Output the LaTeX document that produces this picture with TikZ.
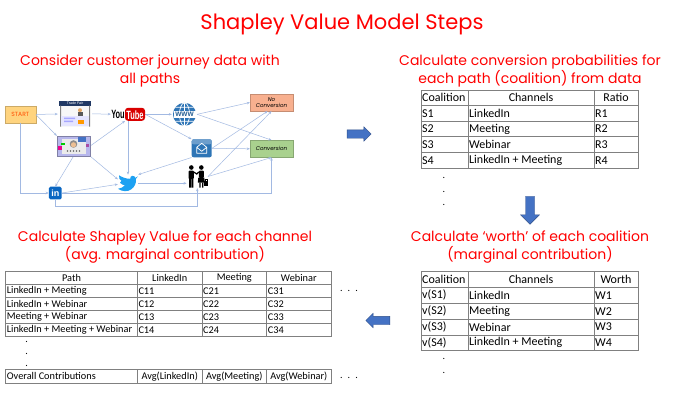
\documentclass[tikz,border=0pt]{standalone}
\usepackage{fontspec}
\setmainfont{Carlito}
\newfontfamily\mainscript{Poppins}
\newfontfamily\logofont{Liberation Sans}
\usetikzlibrary{arrows.meta,shapes.arrows}

\definecolor{rouge}{HTML}{FF0000}
\definecolor{bleufleche}{HTML}{4472C4}
\definecolor{bleulien}{HTML}{A2B9E2}
\definecolor{grisgrille}{HTML}{808080}
\definecolor{bleuli}{HTML}{0A66C2}
\definecolor{bleutw}{HTML}{1DA1F2}
\definecolor{bleuweb}{HTML}{2E75B6}
\definecolor{bleusalon}{HTML}{203864}
\definecolor{lavande}{HTML}{B7B7EC}
\definecolor{orangedep}{HTML}{FFD47F}
\definecolor{saumon}{HTML}{F8B08F}
\definecolor{vertconv}{HTML}{A9D18E}

\tikzset{etape/.style = {text = rouge, align = center, inner sep = 0pt,
                         font = \mainscript\fontsize{14}{18}\selectfont},
         titre/.style = {etape, font = \mainscript\fontsize{21}{24}\selectfont},
         grille/.style = {draw = grisgrille, line width = 0.8pt},
         cellule/.style = {anchor = west, inner sep = 1pt, font = \fontsize{#1}{#1}\selectfont},
         cellule/.default = 12,
         points/.style = {inner sep = 0pt, font = \fontsize{10}{10}\selectfont},
         icone/.style 2 args = {minimum width = #1, minimum height = #2, inner sep = 0pt},
         boite/.style = {icone = {43pt}{17pt}, draw = #1!80!black, fill = #1, line width = 0.4pt,
                         align = center, font = \mainscript\itshape\fontsize{5.5}{6}\selectfont},
         lien/.style = {draw = bleulien, line width = 0.5pt, -{Stealth[length = 3pt, width = 2.5pt]}},
         fleche/.style = {single arrow, draw = bleufleche!70!black, fill = bleufleche, line width = 0.4pt,
                          minimum height = 24pt, inner sep = 4pt, single arrow head extend = 3pt}
        }

\begin{document}
\begin{tikzpicture}[x = 1pt, y = -1pt]
  \useasboundingbox[fill = white] (0,0) rectangle (684,400);

  % titres
  \node[titre] (titre) at (342,24) {Shapley Value Model Steps};
  \node[etape] (etape1) at (150,71) {Consider customer journey data with\\all paths};
  \node[etape] (etape2) at (530,71) {Calculate conversion probabilities for\\each path (coalition) from data};
  \node[etape] (etape3) at (530,247) {Calculate ‘worth’ of each coalition\\(marginal contribution)};
  \node[etape] (etape4) at (165,247) {Calculate Shapley Value for each channel\\(avg. marginal contribution)};

  % parcours client
  \node[boite = orangedep, text = orange!60!red, font = \mainscript\fontsize{6}{6}\selectfont,
        icone = {31pt}{17pt}] (depart) at (20.3,114.7) {START};
  \node[icone = {34pt}{26pt}] (salon) at (75,113.7) {};
  \node[icone = {34pt}{13pt}] (yt) at (128,114.3) {};
  \node[icone = {25pt}{23pt}] (web) at (184.5,114.3) {};
  \node[boite = saumon] (nonconv) at (271.5,102.5) {No\\Conversion};
  \node[icone = {33pt}{20pt}] (webinaire) at (73.5,146) {};
  \node[icone = {20pt}{18pt}] (lettre) at (201.7,148.3) {};
  \node[boite = vertconv] (conv) at (271.5,148.8) {Conversion};
  \node[icone = {20pt}{17pt}] (tw) at (128,183.3) {};
  \node[icone = {21pt}{23pt}] (rencontre) at (197.3,176.5) {};
  \node[icone = {12.7pt}{12.7pt}, fill = bleuli, rounded corners = 1.5pt, text = white,
        font = \logofont\bfseries\fontsize{9}{9}\selectfont] (li) at (55.3,193) {in};

  \draw[lien] (depart) -- (salon);
  \draw[lien] (depart.east) -- (webinaire.north west);
  \draw[lien] (depart.south) |- (li.west);
  \draw[lien] (salon) -- (yt);
  \draw[lien] (webinaire.east) -- ([xshift = -3pt]yt.south);
  \draw[lien] (webinaire.south east) -- ([yshift = 4pt]tw.west);
  \draw[lien] (webinaire.south) -- (li.north);
  \draw[lien] (yt) -- (web);
  \draw[lien] (yt) -- (tw);
  \draw[lien] (yt.east) -- (lettre.north west);
  \draw[lien] (web.east) -- (nonconv.west);
  \draw[lien] (web.east) -- (conv.north);
  \draw[lien] (lettre.east) -- ([xshift = -4pt]nonconv.south);
  \draw[lien] (lettre.east) -- (conv.west);
  \draw[lien] (lettre.south west) -- (tw.north east);
  \draw[lien] (tw.east) -- (rencontre.west |- tw.east);
  \draw[lien] (rencontre.east) -- (nonconv.south);
  \draw[lien] (rencontre.east) -- (conv.south);
  \draw[lien] (li.east) -- ([yshift = -1pt]tw.west);
  \draw[lien] (li.east) -| (conv.south);
  \draw[lien] (li.south) -- ++(0,7) -| (rencontre.south);

  % icones
  \begin{scope}[shift = {(salon.center)}]
    \fill[black!3] (-15,-8) rectangle (15,13);
    \fill[bleusalon] (-16,-13) rectangle (16,-8);
    \node[text = white, inner sep = 0pt, font = \logofont\fontsize{3.6}{4}\selectfont] (salon-t) at (0,-10.5) {Trade Fair};
    \fill[black!50] (-15,-8) rectangle (-14,13) (14,-8) rectangle (15,13);
    \fill[brown!60!orange!70] (5,-3.5) circle (2pt);
    \fill[black!65] (2.5,-1.5) rectangle (7.5,2.5);
    \fill[blue!10] (-14,2.5) rectangle (14,12);
    \fill[blue!35] (-11,4) rectangle (0,5.5) (-11,7) rectangle (-2,8.5);
    \fill[orange!80!yellow] (3,6) rectangle (9,10);
  \end{scope}

  \begin{scope}[shift = {(yt.center)}]
    \node[xscale = 0.62, inner sep = 0pt, font = \logofont\bfseries\fontsize{12}{12}\selectfont] (yt-you) at (-10,0.5) {You};
    \fill[red!85!black, rounded corners = 3pt] (-3,-6.5) rectangle (17,6.5);
    \node[xscale = 0.62, inner sep = 0pt, text = white, font = \logofont\bfseries\fontsize{12}{12}\selectfont] (yt-tube) at (7,0.5) {Tube};
  \end{scope}

  \begin{scope}[shift = {(web.center)}]
    \fill[bleuweb] (0,0) circle (11.5pt);
    \draw[white, line width = 0.7pt] (0,0) ellipse (5pt and 11.5pt) (0,-11.5) -- (0,11.5)
                                     (-9.1,-7) -- (9.1,-7) (-9.1,7) -- (9.1,7);
    \fill[white] (-11,-3.5) rectangle (11,3.5);
    \node[text = bleuweb!80!black, inner sep = 0pt, font = \logofont\bfseries\fontsize{6.5}{6.5}\selectfont] (web-t) at (0,0) {WWW};
  \end{scope}

  \begin{scope}[shift = {(webinaire.center)}]
    \fill[lavande] (-16.5,-10) rectangle (16.5,10);
    \draw[lavande!70!black, line width = 0.4pt] (-16.5,-10) rectangle (16.5,10);
    \fill[black!8] (-11.5,-7) rectangle (12.5,8);
    \fill[black!45] (0,-2) circle (3.8pt);
    \fill[orange!40!brown!50] (0,-1.2) circle (2.6pt);
    \foreach \x in {-6,-3,...,6} \fill[black!60] (\x,5) circle (0.8pt);
    \fill[bleufleche] (4.5,-9) rectangle (12.5,-4);
    \fill[green!80!black] (-12.5,-3.5) rectangle (-8.5,-1);
    \fill[magenta] (-15.5,0) rectangle (-11.5,4);
    \fill[violet!70] (12.5,-2) rectangle (15.5,1);
  \end{scope}

  \begin{scope}[shift = {(lettre.center)}]
    \fill[bleuweb, rounded corners = 2pt] (-10,-9) rectangle (10,9);
    \fill[bleuweb!70!white, rounded corners = 2pt] (-10,-9) rectangle (10,-4);
    \draw[white, line width = 0.7pt, line join = round] (-5,-1) -- (0,-5) -- (5,-1) -- (5,5) -- (-5,5) -- cycle
                                                        (-5,-1) -- (0,3) -- (5,-1);
  \end{scope}

  \begin{scope}[shift = {(tw.center)}]
    \fill[bleutw] (10,-7) -- (7.5,-5.5)
      .. controls (6,-8.5) and (2,-8) .. (2.2,-4.5)
      .. controls (-2,-4.5) and (-6,-6) .. (-9,-8)
      .. controls (-9.5,-5) and (-8,-3) .. (-6.5,-2.5)
      .. controls (-8,-2) and (-8,-1) .. (-8,-0.5)
      .. controls (-6,1) and (-5,2) .. (-3,2)
      .. controls (-5,4) and (-7,5) .. (-10,5.5)
      .. controls (0,12) and (9,4) .. (8,-4.5) -- cycle;
  \end{scope}

  \begin{scope}[shift = {(rencontre.center)}]
    \fill[black] (-6,-9) circle (2.3pt) (4,-9) circle (2.3pt);
    \fill[black, rounded corners = 1pt] (-8.8,-6) rectangle (-3.5,2.5);
    \fill[black] (-8.3,2) rectangle (-6.4,11) (-5.9,2) rectangle (-4,11);
    \fill[black, rounded corners = 1pt] (1.5,-6) rectangle (6.5,1.5);
    \fill[black] (1,1) -- (7,1) -- (7.5,6) -- (0.5,6) -- cycle;
    \fill[black] (2,6) rectangle (3.2,11) (4.8,6) rectangle (6,11);
    \draw[black, line width = 1.2pt] (-3.5,-4.5) -- (-0.5,-2.5) -- (1.5,-4.5);
    \fill[black] (6.5,4) rectangle (10.5,9);
    \draw[black, line width = 0.5pt] (7.5,4) -- (7.5,3) -- (9.5,3) -- (9.5,4);
  \end{scope}

  % fleches entre les etapes
  \node[fleche] (fl1) at (357,134) {};
  \node[fleche, rotate = -90, minimum height = 28pt, inner sep = 4.3pt, single arrow head extend = 5pt] (fl2) at (530,208) {};
  \node[fleche, rotate = 180] (fl3) at (380,320.5) {};

  % probabilites des coalitions
  \draw[grille] (421,90) rectangle (638,168);
  \foreach \y in {105.6,121.2,136.8,152.4} \draw[grille] (421,\y) -- (638,\y);
  \foreach \x in {468,594} \draw[grille] (\x,90) -- (\x,168);
  \node[cellule] (p-c) at (421,97.8) {Coalition};
  \node[cellule, anchor = center] (p-ch) at (531,97.8) {Channels};
  \node[cellule, anchor = center] (p-r) at (616,97.8) {Ratio};
  \foreach \c [count = \i] in {LinkedIn, Meeting, Webinar, LinkedIn + Meeting} {
    \node[cellule] (p-s\i) at (421,{97.8+15.6*\i}) {S\i};
    \node[cellule] (p-ch\i) at (468,{97.8+15.6*\i}) {\c};
    \node[cellule] (p-r\i) at (594,{97.8+15.6*\i}) {R\i};
  }
  \foreach \y [count = \i] in {178,191.5,205} \node[points] (p-pt\i) at (444,\y) {.};

  % valeur des coalitions
  \draw[grille] (421,271.7) rectangle (638,350.7);
  \foreach \y in {287.5,303.3,319.1,334.9} \draw[grille] (421,\y) -- (638,\y);
  \foreach \x in {468,594} \draw[grille] (\x,271.7) -- (\x,350.7);
  \node[cellule] (v-c) at (421,279.6) {Coalition};
  \node[cellule, anchor = center] (v-ch) at (531,279.6) {Channels};
  \node[cellule, anchor = center] (v-w) at (616,279.6) {Worth};
  \foreach \c [count = \i] in {LinkedIn, Meeting, Webinar, LinkedIn + Meeting} {
    \node[cellule] (v-s\i) at (421,{279.6+15.8*\i}) {v(S\i)};
    \node[cellule] (v-ch\i) at (468,{279.6+15.8*\i}) {\c};
    \node[cellule] (v-w\i) at (594,{279.6+15.8*\i}) {W\i};
  }
  \foreach \y [count = \i] in {359,373} \node[points] (v-pt\i) at (444,\y) {.};

  % contributions marginales
  \draw[grille] (5.7,271.3) rectangle (331,336.7);
  \foreach \y in {284.4,297.5,310.6,323.6} \draw[grille] (5.7,\y) -- (331,\y);
  \foreach \x in {137.3,202,266.7} \draw[grille] (\x,271.3) -- (\x,336.7);
  \node[cellule = 10.3, anchor = center] (m-p) at (71.5,277.9) {Path};
  \node[cellule = 10.3, anchor = center] (m-li) at (169.7,277.9) {LinkedIn};
  \node[cellule = 10.3, anchor = center] (m-me) at (234.3,277.9) {Meeting};
  \node[cellule = 10.3, anchor = center] (m-we) at (298.8,277.9) {Webinar};
  \foreach \c [count = \i] in {LinkedIn + Meeting, LinkedIn + Webinar, Meeting + Webinar, LinkedIn + Meeting + Webinar} {
    \node[cellule = 10.3] (m-p\i) at (5.7,{277.9+13.08*\i}) {\c};
    \node[cellule = 10.3] (m-li\i) at (137.3,{277.9+13.08*\i}) {C1\i};
    \node[cellule = 10.3] (m-me\i) at (202,{277.9+13.08*\i}) {C2\i};
    \node[cellule = 10.3] (m-we\i) at (266.7,{277.9+13.08*\i}) {C3\i};
  }
  \foreach \y [count = \i] in {342,354,366} \node[points] (m-pt\i) at (26.7,\y) {.};
  \node[points] (m-etc1) at (349,291) {.\hspace{5pt}.\hspace{5pt}.};

  \draw[grille] (5.7,369) rectangle (331,383.3);
  \foreach \x in {137.3,202,266.7} \draw[grille] (\x,369) -- (\x,383.3);
  \node[cellule = 10.3] (m-tot) at (5.7,376.2) {Overall Contributions};
  \node[cellule = 10.3, anchor = center] (m-tli) at (169.7,376.2) {Avg(LinkedIn)};
  \node[cellule = 10.3, anchor = center] (m-tme) at (234.3,376.2) {Avg(Meeting)};
  \node[cellule = 10.3, anchor = center] (m-twe) at (298.8,376.2) {Avg(Webinar)};
  \node[points] (m-etc2) at (349,377.5) {.\hspace{5pt}.\hspace{5pt}.};
\end{tikzpicture}
\end{document}
